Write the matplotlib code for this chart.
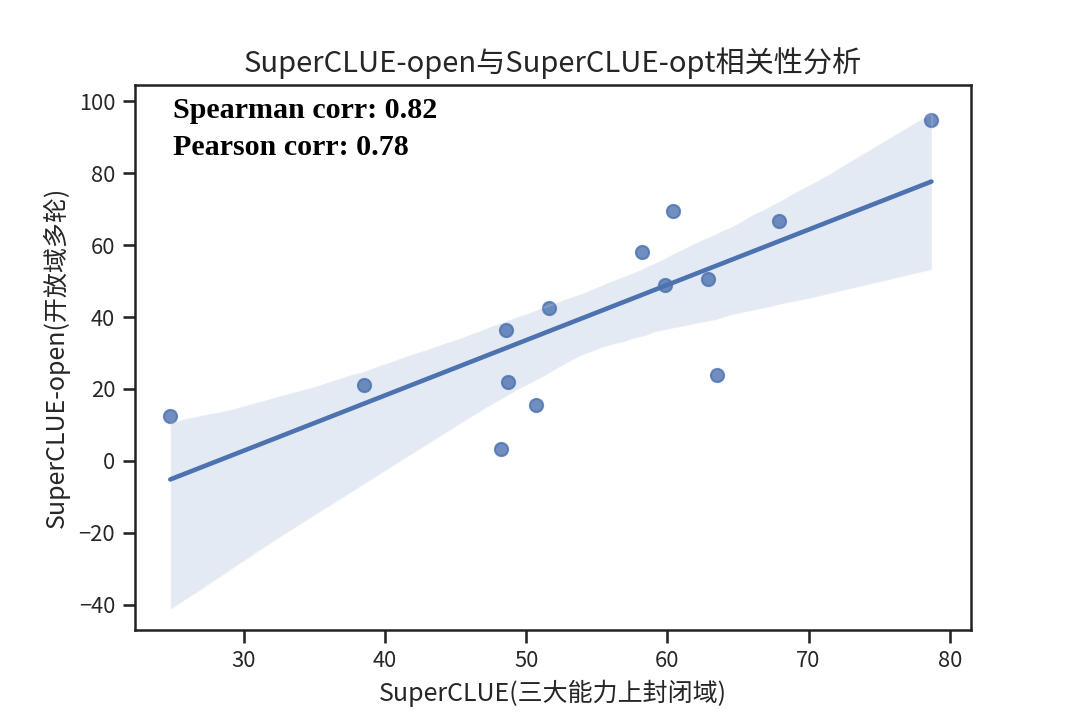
import matplotlib
matplotlib.use('Agg')
import matplotlib.pyplot as plt
import seaborn as sns
import numpy as np

# SuperCLUE (closed-domain) vs SuperCLUE-open scores
closed_scores = [24.8, 38.5, 48.2, 48.6, 48.7, 50.7, 51.6, 58.2, 60.4, 59.8, 62.9, 63.5, 67.9, 78.7]
open_scores = [12.5, 21.2, 3.2, 36.5, 22.0, 15.6, 42.4, 58.0, 69.5, 49.0, 50.6, 24.0, 66.7, 94.7]

sns.set_theme(style='ticks')
plt.rcParams['font.family'] = ['Noto Sans CJK SC', 'DejaVu Sans']
plt.rcParams['axes.unicode_minus'] = True

fig = plt.figure(figsize=(7.2, 4.8), dpi=150)
ax = fig.add_axes([0.125, 0.125, 0.774, 0.757])

sns.regplot(x=np.array(closed_scores), y=np.array(open_scores), ax=ax,
            color='#4c72b0', seed=0, scatter_kws={'s': 40},
            line_kws={'linewidth': 2.2})

for side in ax.spines.values():
    side.set_color('#222222')
    side.set_linewidth(1.2)

ax.set_xlim(22.3, 81.5)
ax.set_ylim(-47, 104.5)
ax.set_xticks([30, 40, 50, 60, 70, 80])
ax.set_yticks([-40, -20, 0, 20, 40, 60, 80, 100])
ax.tick_params(labelsize=10.5)

ax.set_title('SuperCLUE-open与SuperCLUE-opt相关性分析', fontsize=14)
ax.set_xlabel('SuperCLUE(三大能力上封闭域)', fontsize=12)
ax.set_ylabel('SuperCLUE-open(开放域多轮)', fontsize=12)

ax.text(0.046, 0.978, 'Spearman corr: 0.82',
        transform=ax.transAxes, va='top', ha='left', color='black',
        family='Liberation Serif', fontweight='bold', fontsize=14.4)
ax.text(0.046, 0.91, 'Pearson corr: 0.78',
        transform=ax.transAxes, va='top', ha='left', color='black',
        family='Liberation Serif', fontweight='bold', fontsize=14.4)

fig.savefig('out.png')
